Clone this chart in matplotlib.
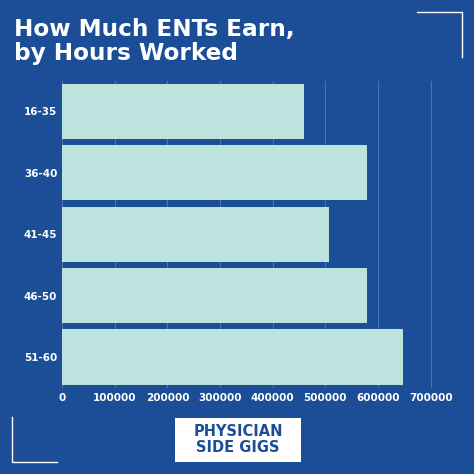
import matplotlib.pyplot as plt
from matplotlib.patches import Rectangle

# hours-worked groups and average earnings
groups = ["16-35", "36-40", "41-45", "46-50", "51-60"]
earnings = [460000, 578000, 507000, 578000, 648000]
ticks = [0, 100000, 200000, 300000, 400000, 500000, 600000, 700000]

BG = "#1b4e97"
BAR = "#bde3df"

fig = plt.figure(figsize=(4.74, 4.74), dpi=100, facecolor=BG)
ax = fig.add_axes([0.131, 0.182, 0.80, 0.648])
ax.set_facecolor(BG)

ax.barh(groups, earnings, height=0.9, color=BAR)
ax.invert_yaxis()
ax.set_xlim(0, 720000)
ax.set_ylim(4.5, -0.5)
ax.set_xticks(ticks)
ax.set_xticklabels([str(t) for t in ticks])
ax.grid(axis="x", color="#4a74b0", linewidth=0.8)
ax.set_axisbelow(True)
for s in ax.spines.values():
    s.set_visible(False)
ax.tick_params(colors="white", length=0, labelsize=7.5)
for lbl in ax.get_xticklabels() + ax.get_yticklabels():
    lbl.set_fontweight("bold")

fig.text(0.03, 0.862, "How Much ENTs Earn,\nby Hours Worked", color="white",
         fontsize=16.7, fontweight="bold", va="bottom", linespacing=1.1)

# logo box
fig.patches.append(Rectangle((0.37, 0.025), 0.265, 0.093, transform=fig.transFigure,
                             facecolor="white", edgecolor="none"))
fig.text(0.502, 0.072, "PHYSICIAN\nSIDE GIGS", color=BG, fontsize=10.5,
         fontweight="bold", ha="center", va="center", linespacing=1.1)

# corner decorations
fig.add_artist(plt.Line2D([0.88, 0.975, 0.975], [0.975, 0.975, 0.88],
                          transform=fig.transFigure, color="white", lw=1))
fig.add_artist(plt.Line2D([0.025, 0.025, 0.12], [0.12, 0.025, 0.025],
                          transform=fig.transFigure, color="white", lw=1))

fig.savefig("out.png", dpi=100, facecolor=BG)
